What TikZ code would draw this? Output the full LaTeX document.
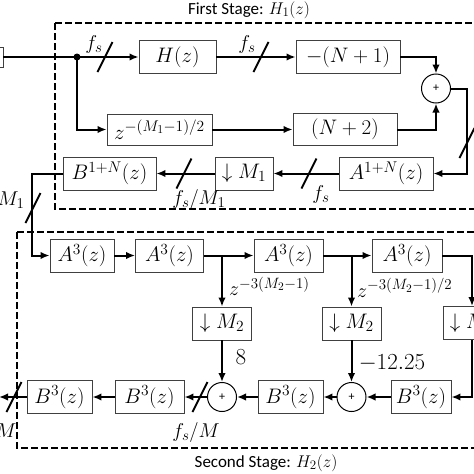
\RequirePackage{fix-cm}
\documentclass[tikz,border=0pt]{standalone}
\usepackage{fontspec}
\newfontfamily\titlefont{Carlito}
\usetikzlibrary{arrows.meta}
\DeclareMathSizes{21}{21}{15.5}{12}
\DeclareMathSizes{20}{20}{15}{11.5}
\DeclareMathSizes{23}{23}{17}{13}
\DeclareMathSizes{17}{17}{13}{10}
\tikzset{
  box/.style={draw=black!75, line width=0.9pt, fill=white, inner sep=0pt, minimum height=33, font=\fontsize{21}{24}\selectfont},
  conn/.style={line width=2pt},
  arr/.style={conn, -{Latex[length=9pt,width=7.5pt]}},
  sumnode/.style={circle, draw=black, line width=1pt, minimum size=29, inner sep=0pt, fill=white, font=\titlefont\fontsize{12}{13}\selectfont},
  stagebox/.style={line width=1.8pt, dash pattern=on 6.5pt off 3.5pt},
  lbl/.style={inner sep=0pt, font=\fontsize{20}{23}\selectfont},
  numlbl/.style={inner sep=0pt, font=\fontsize{23}{26}\selectfont},
  ttl/.style={inner sep=0pt, font=\titlefont\fontsize{17}{20}\selectfont},
  slashmark/.pic={\draw[line width=2pt] (-7.5,15) -- (7.5,-15);}
}
\begin{document}
\begin{tikzpicture}[x=1pt,y=-1pt]
\useasboundingbox (0,0) rectangle (474,474);
\clip (0,0) rectangle (474,474);
% stage frames
\draw[stagebox] (55,23) -- (490,23);
\draw[stagebox] (55,23) -- (55,209) -- (490,209);
\draw[stagebox] (17,232) -- (490,232);
\draw[stagebox] (17,232) -- (17,448) -- (490,448);
\node[ttl] (t1) at (249,10) {First Stage: $H_1(z)$};
\node[ttl] (t2) at (266,463) {Second Stage: $H_2(z)$};
% first stage
\node[box, minimum width=40, minimum height=20] (src) at (-17,57) {};
\coordinate (j1) at (77,57);
\node[box, minimum width=77] (H) at (177.5,57) {$H(z)$};
\node[box, minimum width=104] (N1) at (348,57) {$-(N+1)$};
\node[sumnode] (s1) at (436,88.5) {+};
\node[box, minimum width=105, minimum height=31] (zd) at (159.5,129.5) {$z^{-(M_1-1)/2}$};
\node[box, minimum width=104, minimum height=32] (N2) at (345,129.5) {$(N+2)$};
\node[box, minimum width=94] (A1) at (386,173.5) {$A^{1+N}(z)$};
\node[box, minimum width=58] (D1) at (244,173.5) {$\downarrow M_1$};
\node[box, minimum width=93] (B1) at (109.5,173.5) {$B^{1+N}(z)$};
\coordinate (c1) at (467,173.5);
\coordinate (c2) at (32,255.5);
\draw[arr] (src.east) -- (H.west);
\fill (j1) circle (3.5);
\draw[arr] (H.east) -- (N1.west);
\draw[arr] (N1.east) -| (s1.north);
\draw[arr] (j1) |- (zd.west);
\draw[arr] (zd.east) -- (N2.west);
\draw[arr] (N2.east) -| (s1.south);
\draw[arr] (s1.east) -| (c1) -- (A1.east);
\draw[arr] (A1.west) -- (D1.east);
\draw[arr] (D1.west) -- (B1.east);
% second stage
\node[box, minimum width=64] (A31) at (82,255.5) {$A^3(z)$};
\node[box, minimum width=68] (A32) at (169.5,255.5) {$A^3(z)$};
\node[box, minimum width=69] (A33) at (288.5,255.5) {$A^3(z)$};
\node[box, minimum width=70] (A34) at (407,255.5) {$A^3(z)$};
\draw[arr] (B1.west) -| (c2) -- (A31.west);
\coordinate (j2) at (222,255.5);
\coordinate (j3) at (351.5,255.5);
\node[box, minimum width=59] (D2) at (222,323.5) {$\downarrow M_2$};
\node[box, minimum width=59] (D3) at (351.5,323.5) {$\downarrow M_2$};
\node[box, minimum width=58] (D4) at (472,323) {$\downarrow M_2$};
\node[sumnode] (s2) at (222,397) {+};
\node[sumnode] (s3) at (351.5,397) {+};
\node[box, minimum width=65] (BL) at (59.5,397) {$B^3(z)$};
\node[box, minimum width=69] (BM) at (149.5,397) {$B^3(z)$};
\node[box, minimum width=65] (B32) at (290.5,397) {$B^3(z)$};
\node[box, minimum width=60] (B33) at (421,397) {$B^3(z)$};
\coordinate (out) at (-1,397);
\draw[arr] (A31.east) -- (A32.west);
\draw[arr] (A32.east) -- (A33.west);
\draw[arr] (A33.east) -- (A34.west);
\draw[arr] (j2) -- (D2.north);
\draw[arr] (j3) -- (D3.north);
\draw[arr] (A34.east) -| (D4.north);
\draw[arr] (D2.south) -- (s2.north);
\draw[arr] (D3.south) -- (s3.north);
\draw[arr] (D4.south) |- (B33.east);
\draw[arr] (B33.west) -- (s3.east);
\draw[arr] (s3.west) -- (B32.east);
\draw[arr] (B32.west) -- (s2.east);
\draw[arr] (s2.west) -- (BM.east);
\draw[arr] (BM.west) -- (BL.east);
\draw[arr] (BL.west) -- (out);
% rate slashes
\pic at (105,57) {slashmark};
\pic at (261,57) {slashmark};
\pic at (467,143) {slashmark};
\pic at (309,173.5) {slashmark};
\pic at (184,173.5) {slashmark};
\pic at (33,208) {slashmark};
\pic at (200,397) {slashmark};
\pic at (14,397) {slashmark};
% labels
\node[lbl] (l1) at (94,44) {$f_s$};
\node[lbl] (l2) at (247,44) {$f_s$};
\node[lbl] (l3) at (321,194) {$f_s$};
\node[lbl] (l4) at (199,199) {$f_s/M_1$};
\node[lbl] (l5) at (11,200) {$M_1$};
\node[lbl, anchor=west] (l6) at (229,286) {$z^{-3(M_2-1)}$};
\node[lbl, anchor=west] (l7) at (357,288) {$z^{-3(M_2-1)/2}$};
\node[numlbl] (l8) at (241,357) {$8$};
\node[numlbl] (l9) at (392,363) {$-12.25$};
\node[lbl] (l10) at (196,432) {$f_s/M$};
\node[lbl] (l11) at (6,431) {$M$};
\end{tikzpicture}
\end{document}
